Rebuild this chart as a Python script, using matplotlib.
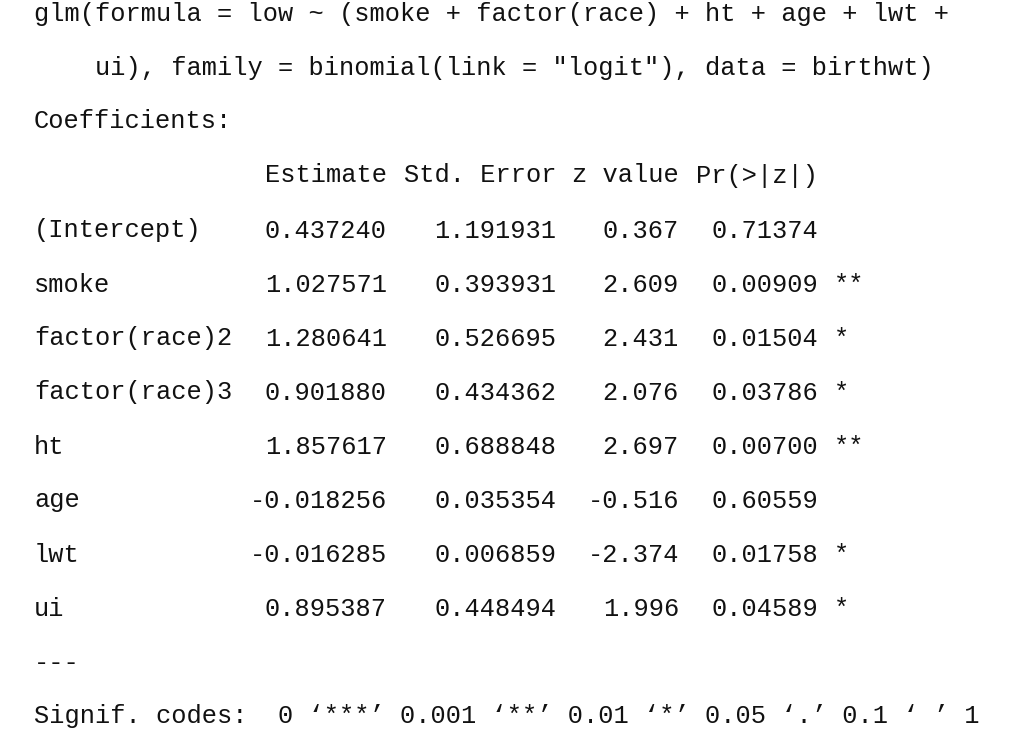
import matplotlib
matplotlib.use("Agg")
import matplotlib.pyplot as plt

names = ["(Intercept)", "smoke", "factor(race)2", "factor(race)3", "ht", "age", "lwt", "ui"]
estimate = [0.437240, 1.027571, 1.280641, 0.901880, 1.857617, -0.018256, -0.016285, 0.895387]
std_err = [1.191931, 0.393931, 0.526695, 0.434362, 0.688848, 0.035354, 0.006859, 0.448494]
z_value = [0.367, 2.609, 2.431, 2.076, 2.697, -0.516, -2.374, 1.996]
p_value = ["0.71374", "0.00909", "0.01504", "0.03786", "0.00700", "0.60559", "0.01758", "0.04589"]
stars = ["", "**", "*", "*", "**", "", "*", "*"]
headers = ["Estimate", "Std. Error", "z value", "Pr(>|z|)"]

W, H = 1011, 745
fig = plt.figure(figsize=(W / 100, H / 100), dpi=100)
fs = 18.3
kw = dict(family=["Liberation Mono", "DejaVu Sans Mono"], fontsize=fs, color="#111111",
          va="center_baseline")

def put(x, y, s, ha="left"):
    fig.text(x / W, 1 - (y - 2) / H, s, ha=ha, **kw)

put(34, 14, "glm(formula = low ~ (smoke + factor(race) + ht + age + lwt +")
put(34, 68, "    ui), family = binomial(link = \"logit\"), data = birthwt)")
put(34, 121, "Coefficients:")

col_right = [387, 556, 679, 818]
for x, h in zip(col_right, headers):
    put(x, 175, h, ha="right")

y0, dy = 230, 54.0
for i, n in enumerate(names):
    y = y0 + i * dy
    put(34, y, n)
    put(col_right[0], y, f"{estimate[i]:.6f}", ha="right")
    put(col_right[1], y, f"{std_err[i]:.6f}", ha="right")
    put(col_right[2], y, f"{z_value[i]:.3f}", ha="right")
    put(col_right[3], y, p_value[i], ha="right")
    if stars[i]:
        put(834, y, stars[i])

put(34, 662, "---")
put(34, 716, "Signif. codes:  0 \u2018***\u2019 0.001 \u2018**\u2019 0.01 \u2018*\u2019 0.05 \u2018.\u2019 0.1 \u2018 \u2019 1")

fig.savefig("out.png", dpi=100, facecolor="white")
